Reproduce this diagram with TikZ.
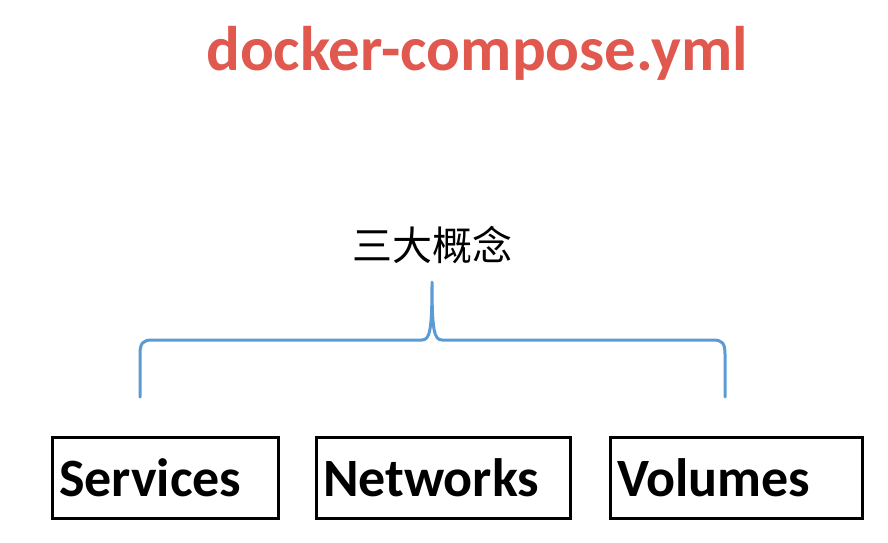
\documentclass[tikz,border=0pt]{standalone}
\usepackage{fontspec}
\setmainfont{Carlito}
\newfontfamily\cjk{Noto Sans CJK SC}
\usepackage{xcolor}
\usetikzlibrary{positioning}
\usetikzlibrary{calc}
\definecolor{titlered}{RGB}{224,88,78}
\definecolor{braceblue}{RGB}{91,155,213}

\tikzset{
  conceptbox/.style={draw, line width=3pt, minimum height=81pt, inner xsep=7pt,
    align=left, text height=38pt, text depth=0pt,
    font=\fontsize{54}{60}\selectfont\bfseries},
  bracestyle/.style={draw=braceblue, line width=3pt, line join=round, line cap=round}
}

\begin{document}
\begin{tikzpicture}[x=1pt, y=-1pt]
 \useasboundingbox (0,0) rectangle (888,542);

 %title
 \node[titlered, anchor=base, font=\fontsize{63}{70}\selectfont\bfseries] (title) at (477,70) {docker-compose.yml};

 \node[font=\fontsize{40}{48}\selectfont\cjk, inner sep=0pt] (concept) at (432,245) {三大概念};

 %boxes
 \foreach \cx/\w/\name/\txt in {165/226/services/Services, 443/254/networks/Networks, 736/252/volumes/Volumes} {
     \node[conceptbox, minimum width=\w pt, text width=\w pt-14pt] (\name) at (\cx,477.5) {\txt};
 }

 %brace
 \coordinate (tip) at (432,282);
 \draw[bracestyle] (140,397) -- (140,354) .. controls (140,343) and (143,340) .. (152,340)
   -- (422,340) .. controls (430,340) and (432,330) .. (tip)
   .. controls (432,330) and (434,340) .. (442,340)
   -- (713,340) .. controls (722,340) and (725,343) .. (725,354) -- (725,397);
\end{tikzpicture}
\end{document}
